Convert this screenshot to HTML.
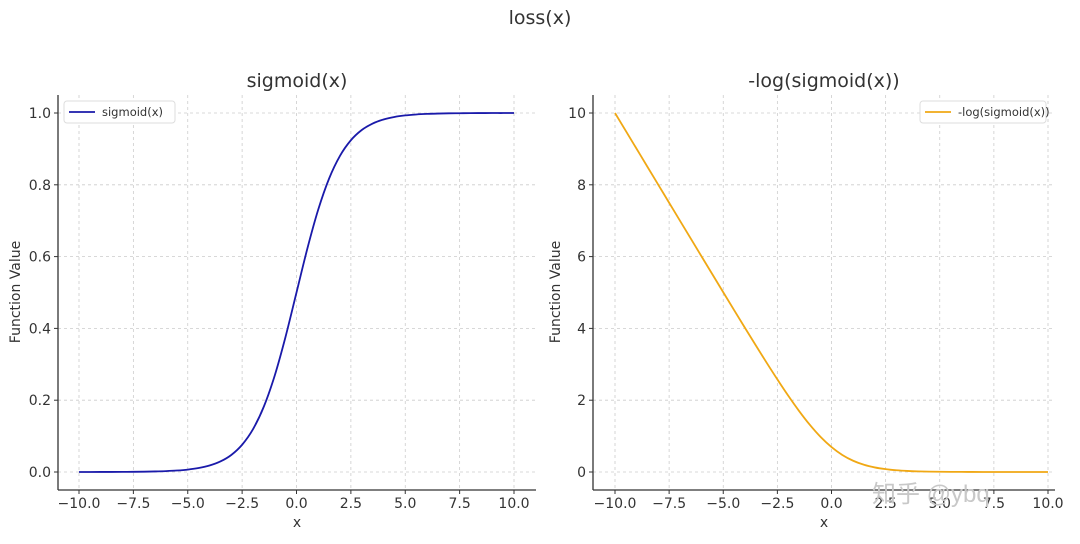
<!DOCTYPE html>
<html><head><meta charset="utf-8"><style>
body{margin:0;background:#fff;}
svg text{font-family:"DejaVu Sans","Liberation Sans",sans-serif;fill:#333;}
</style></head><body>
<svg id="fig" width="1080" height="539" viewBox="0 0 1080 539" xmlns="http://www.w3.org/2000/svg">
<text x="540" y="24" font-size="19" text-anchor="middle">loss(x)</text>
<g id="p1"></g>
<g id="p2"></g>
<text x="872" y="502" font-size="24" style="fill:#c8c8c8;font-family:'Liberation Sans','Noto Sans CJK SC',sans-serif">知乎 @ybq</text>
</svg>
<script>
const xs=[-10,-9.5,-9,-8.5,-8,-7.5,-7,-6.5,-6,-5.5,-5,-4.5,-4,-3.5,-3,-2.5,-2,-1.5,-1,-0.5,0,0.5,1,1.5,2,2.5,3,3.5,4,4.5,5,5.5,6,6.5,7,7.5,8,8.5,9,9.5,10];
const sigVals=[0.00005,0.00007,0.00012,0.0002,0.00034,0.00055,0.0009,0.0015,0.0025,0.0041,0.0067,0.011,0.018,0.0293,0.0474,0.0759,0.1192,0.1824,0.2689,0.3775,0.5,0.6225,0.7311,0.8176,0.8808,0.9241,0.9526,0.9707,0.982,0.989,0.9933,0.9959,0.9975,0.9985,0.9991,0.9994,0.9997,0.9998,0.9999,0.9999,1.0];
const negVals=[10,9.5,9,8.5,8.0003,7.5006,7.0009,6.5015,6.0025,5.5041,5.0067,4.5111,4.0181,3.5297,3.0486,2.5789,2.1269,1.7014,1.3133,0.9741,0.6931,0.4741,0.3133,0.2014,0.1269,0.0789,0.0486,0.0297,0.0181,0.0111,0.0067,0.0041,0.0025,0.0015,0.0009,0.0006,0.0003,0.0002,0.0001,0.0001,0];
const xTicks=[-10,-7.5,-5,-2.5,0,2.5,5,7.5,10];
const xTickLabels=["−10.0","−7.5","−5.0","−2.5","0.0","2.5","5.0","7.5","10.0"];
const sigTicks=[0,0.2,0.4,0.6,0.8,1.0];
const sigTickLabels=["0.0","0.2","0.4","0.6","0.8","1.0"];
const negTicks=[0,2,4,6,8,10];
const negTickLabels=["0","2","4","6","8","10"];
const NS="http://www.w3.org/2000/svg";
function mk(p,t,a){const e=document.createElementNS(NS,t);for(const k in a)e.setAttribute(k,a[k]);p.appendChild(e);return e;}
function panel(g,o){
  const X=v=>o.x0+(v+10)/20*(o.x1-o.x0);
  const Y=v=>o.y0-(v-o.ymin)/(o.ymax-o.ymin)*(o.y0-o.y1);
  xTicks.forEach((t,i)=>{
    const l=mk(g,'line',{x1:X(t),x2:X(t),y1:95,y2:490,stroke:'#ccc','stroke-dasharray':'3,3','stroke-width':0.8});
    
    const k=mk(g,'line',{x1:X(t),x2:X(t),y1:490,y2:494,stroke:'#333'});
    
    const tx=mk(g,'text',{x:X(t),y:508,'font-size':14,'text-anchor':'middle'});tx.textContent=xTickLabels[i];
    
  });
  o.ticks.forEach((t,i)=>{
    const l=mk(g,'line',{x1:o.ax,x2:o.axr,y1:Y(t),y2:Y(t),stroke:'#ccc','stroke-dasharray':'3,3','stroke-width':0.8});
    
    const k=mk(g,'line',{x1:o.ax-4,x2:o.ax,y1:Y(t),y2:Y(t),stroke:'#333'});
    
    const tx=mk(g,'text',{x:o.ax-7,y:Y(t)+5,'font-size':14,'text-anchor':'end'});tx.textContent=o.labels[i];
    
  });
  const s1=mk(g,'line',{x1:o.ax,x2:o.ax,y1:95,y2:490,stroke:'#333','stroke-width':1.3});
  
  const s2=mk(g,'line',{x1:o.ax,x2:o.axr,y1:490,y2:490,stroke:'#333','stroke-width':1.3});
  
  const pts=xs.map((x,i)=>[X(x),Y(o.vals[i])]);
  let d='M'+pts[0][0]+','+pts[0][1];
  for(let i=0;i<pts.length-1;i++){
    const p0=pts[Math.max(0,i-1)],p1=pts[i],p2=pts[i+1],p3=pts[Math.min(pts.length-1,i+2)];
    d+=' C'+(p1[0]+(p2[0]-p0[0])/6)+','+(p1[1]+(p2[1]-p0[1])/6)+' '+(p2[0]-(p3[0]-p1[0])/6)+','+(p2[1]-(p3[1]-p1[1])/6)+' '+p2[0]+','+p2[1];
  }
  const ln=mk(g,'path',{d:d,fill:'none',stroke:o.color,'stroke-width':1.8});
  
  const tt=mk(g,'text',{x:(o.ax+o.axr)/2,y:87,'font-size':19,'text-anchor':'middle'});tt.textContent=o.title;
  
  const xl=mk(g,'text',{x:(o.ax+o.axr)/2,y:527,'font-size':14,'text-anchor':'middle'});xl.textContent='x';
  
  const yl=mk(g,'text',{x:0,y:0,'font-size':14,'text-anchor':'middle',transform:'translate('+o.ylx+',292) rotate(-90)'});yl.textContent='Function Value';
  
  const lg=mk(g,'g',{});
  
  mk(lg,'rect',{x:o.lgx,y:101,width:o.lgw,height:22,rx:3,fill:'#fff',stroke:'#ddd'});
  mk(lg,'line',{x1:o.lgx+5,x2:o.lgx+31,y1:112,y2:112,stroke:o.color,'stroke-width':1.8});
  const lt=mk(lg,'text',{x:o.lgx+38,y:116,'font-size':11.5});lt.textContent=o.title;
}
panel(document.getElementById('p1'),{x0:79,x1:514,y0:472,y1:113,ymin:0,ymax:1,ax:58,axr:536,ticks:sigTicks,labels:sigTickLabels,vals:sigVals,color:'#1a1aaa',title:'sigmoid(x)',name:'sigmoid',ylx:20,lgx:64,lgw:111});
panel(document.getElementById('p2'),{x0:615,x1:1048,y0:472,y1:113,ymin:0,ymax:10,ax:593,axr:1055,ticks:negTicks,labels:negTickLabels,vals:negVals,color:'#f0a814',title:'-log(sigmoid(x))',name:'neglog',ylx:560,lgx:920,lgw:126});
</script>
</body></html>
